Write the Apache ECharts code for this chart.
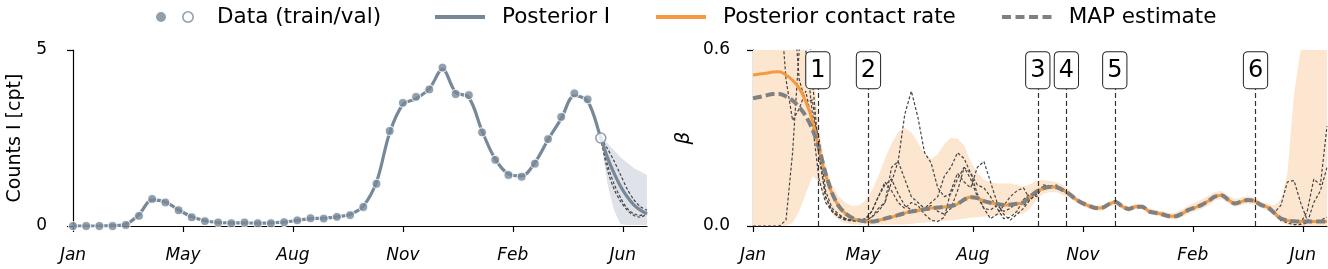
<!DOCTYPE html>
<html><head><meta charset="utf-8">
<script src="https://cdn.jsdelivr.net/npm/echarts@6.0.0/dist/echarts.min.js"></script>
<style>html,body{margin:0;padding:0;background:#fff}#c{width:1328px;height:269px}</style>
</head><body><div id="c"></div><script>
// ---------- data ----------
const tickLabels = ['Jan', 'May', 'Aug', 'Nov', 'Feb', 'Jun'];
const tickDays = [0, 100, 200, 300, 400, 500];
const countStepDays = 12;      // spacing of the count observations
const betaStepDays = 6;        // spacing of the contact-rate samples

const trainCounts = [0.0, 0.0, 0.0, 0.0, 0.03, 0.29, 0.77, 0.67, 0.45, 0.25, 0.14, 0.1, 0.08, 0.1, 0.08, 0.08, 0.11, 0.16, 0.22, 0.21, 0.26, 0.31, 0.54, 1.2, 2.7, 3.5, 3.67, 3.88, 4.5, 3.75, 3.72, 2.66, 1.88, 1.45, 1.4, 1.77, 2.47, 3.1, 3.77, 3.6];
const valCounts = [2.5];
const posteriorFit = [0.0, 0.0, 0.0, 0.01, 0.05, 0.33, 0.74, 0.68, 0.46, 0.26, 0.15, 0.1, 0.09, 0.09, 0.08, 0.09, 0.11, 0.16, 0.21, 0.22, 0.26, 0.33, 0.57, 1.25, 2.65, 3.45, 3.62, 3.9, 4.45, 3.8, 3.65, 2.7, 1.9, 1.48, 1.42, 1.8, 2.45, 3.05, 3.7, 3.55, 2.5];
const forecastDays = [480, 486, 492, 498, 504, 510, 516, 522];
const forecastPosterior = [2.5, 1.95, 1.5, 1.12, 0.83, 0.6, 0.45, 0.35];
const forecastUpper = [2.55, 2.35, 2.15, 1.95, 1.8, 1.65, 1.55, 1.45];
const forecastLower = [2.45, 1.2, 0.45, 0.05, 0.03, 0.03, 0.03, 0.03];
const forecastMapA = [2.5, 2.2, 1.85, 1.45, 1.05, 0.75, 0.55, 0.45];
const forecastMapB = [2.5, 1.6, 1.05, 0.7, 0.45, 0.3, 0.25, 0.35];
const forecastMapC = [2.5, 1.75, 1.2, 0.8, 0.5, 0.35, 0.3, 0.4];

const betaPosterior = [0.515,0.518,0.521,0.525,0.526,0.515,0.497,0.47,0.425,0.36,0.26,0.175,
 0.11,0.068,0.043,0.028,0.02,0.016,0.015,0.019,0.025,0.03,0.037,0.044,
 0.049,0.053,0.057,0.061,0.063,0.065,0.067,0.075,0.09,0.099,0.095,0.085,
 0.079,0.075,0.072,0.072,0.076,0.08,0.1,0.118,0.128,0.133,0.133,0.122,
 0.108,0.09,0.077,0.068,0.061,0.062,0.075,0.082,0.066,0.058,0.066,0.066,
 0.05,0.045,0.04,0.034,0.033,0.042,0.055,0.063,0.072,0.085,0.1,0.105,
 0.09,0.077,0.083,0.089,0.085,0.072,0.064,0.045,0.026,0.019,0.016,0.015,
 0.015,0.015,0.015,0.015];
const betaMap = [0.435,0.44,0.445,0.45,0.45,0.442,0.428,0.405,0.375,0.33,0.265,0.18,
 0.112,0.068,0.043,0.028,0.02,0.016,0.015,0.019,0.025,0.031,0.037,0.044,
 0.049,0.053,0.057,0.06,0.063,0.065,0.068,0.075,0.09,0.098,0.095,0.085,
 0.079,0.075,0.072,0.073,0.076,0.081,0.1,0.118,0.128,0.133,0.132,0.122,
 0.108,0.09,0.077,0.068,0.061,0.063,0.075,0.082,0.066,0.058,0.066,0.066,
 0.05,0.045,0.04,0.034,0.033,0.042,0.055,0.063,0.072,0.085,0.1,0.105,
 0.09,0.077,0.083,0.089,0.085,0.072,0.064,0.045,0.026,0.019,0.016,0.015,
 0.015,0.015,0.015,0.015];
const betaUpper = [0.6,0.6,0.6,0.6,0.6,0.6,0.6,0.6,0.6,0.58,0.33,0.2,
 0.14,0.1,0.08,0.068,0.07,0.085,0.12,0.17,0.23,0.28,0.32,0.334,
 0.32,0.285,0.245,0.228,0.245,0.28,0.3,0.298,0.275,0.22,0.18,0.158,
 0.148,0.145,0.145,0.145,0.14,0.135,0.142,0.155,0.157,0.153,0.15,0.14,
 0.12,0.1,0.086,0.077,0.07,0.071,0.084,0.091,0.075,0.067,0.075,0.075,
 0.06,0.055,0.05,0.045,0.045,0.056,0.07,0.08,0.09,0.102,0.116,0.12,
 0.105,0.092,0.097,0.102,0.097,0.083,0.076,0.07,0.09,0.18,0.45,0.6,
 0.6,0.6,0.6,0.6];
const betaLower = [0,0,0,0,0,0,0.01,0.05,0.11,0.17,0.15,0.08,
 0.04,0.02,0.01,0.005,0.005,0.005,0.005,0.005,0.005,0.005,0.005,0.005,
 0.007,0.01,0.012,0.014,0.016,0.018,0.02,0.022,0.025,0.028,0.03,0.032,
 0.034,0.036,0.037,0.038,0.04,0.042,0.06,0.09,0.11,0.115,0.115,0.105,
 0.095,0.08,0.068,0.059,0.052,0.053,0.066,0.073,0.057,0.049,0.057,0.057,
 0.041,0.036,0.031,0.025,0.023,0.03,0.042,0.05,0.058,0.07,0.086,0.092,
 0.078,0.065,0.071,0.077,0.073,0.061,0.053,0.035,0.012,0.004,0,0,
 0,0,0,0];
const betaRun1 = [0.9,0.9,0.9,0.9,0.8,0.5,0.36,0.4,0.46,0.35,0.16,0.08,
 0.05,0.035,0.025,0.02,0.018,0.02,0.03,0.05,0.08,0.15,0.22,0.38,
 0.46,0.37,0.25,0.215,0.13,0.1,0.11,0.16,0.2,0.16,0.1,0.06,
 0.055,0.07,0.05,0.06,0.08,0.07,0.09,0.12,0.135,0.13,0.14,0.125,
 0.11,0.092,0.078,0.07,0.06,0.064,0.074,0.083,0.067,0.058,0.067,0.065,
 0.051,0.045,0.041,0.035,0.034,0.043,0.056,0.062,0.073,0.086,0.1,0.104,
 0.09,0.078,0.084,0.088,0.085,0.073,0.063,0.045,0.07,0.15,0.155,0.08,
 0.02,0.015,0.02,0.03];
const betaRun2 = [0,0,0,0,0,0.02,0.25,0.6,0.85,0.5,0.24,0.1,
 0.05,0.03,0.022,0.018,0.017,0.02,0.05,0.1,0.14,0.16,0.11,0.07,
 0.055,0.05,0.06,0.08,0.1,0.17,0.2,0.25,0.23,0.18,0.11,0.06,
 0.025,0.04,0.07,0.1,0.12,0.13,0.09,0.11,0.13,0.128,0.135,0.12,
 0.105,0.088,0.076,0.066,0.062,0.06,0.076,0.08,0.065,0.06,0.065,0.067,
 0.049,0.046,0.039,0.033,0.032,0.04,0.054,0.064,0.071,0.084,0.099,0.106,
 0.091,0.076,0.082,0.09,0.084,0.071,0.065,0.04,0.02,0.015,0.015,0.01,
 0.05,0.16,0.14,0.34];
const betaRun3 = [0.9,0.9,0.9,0.9,0.9,0.9,0.8,0.5,0.42,0.43,0.25,0.1,
 0.05,0.03,0.02,0.017,0.02,0.025,0.05,0.1,0.15,0.12,0.08,0.06,
 0.08,0.07,0.04,0.02,0.015,0.03,0.12,0.18,0.15,0.13,0.2,0.22,
 0.15,0.08,0.04,0.02,0.04,0.06,0.09,0.11,0.13,0.14,0.13,0.12,
 0.108,0.09,0.079,0.067,0.063,0.063,0.073,0.084,0.067,0.057,0.068,0.065,
 0.05,0.044,0.041,0.035,0.033,0.041,0.056,0.062,0.072,0.086,0.101,0.104,
 0.09,0.077,0.083,0.089,0.085,0.072,0.064,0.045,0.02,0.01,0.005,0.005,
 0.01,0.08,0.12,0.2];
const betaRun4 = [0.9,0.9,0.9,0.9,0.9,0.9,0.9,0.9,0.6,0.38,0.3,0.12,
 0.06,0.04,0.025,0.02,0.016,0.015,0.03,0.06,0.08,0.2,0.22,0.16,
 0.1,0.08,0.06,0.07,0.05,0.04,0.06,0.12,0.2,0.18,0.14,0.13,
 0.1,0.06,0.025,0.03,0.05,0.09,0.11,0.1,0.14,0.135,0.13,0.125,
 0.107,0.09,0.077,0.068,0.061,0.062,0.075,0.082,0.066,0.058,0.066,0.066,
 0.05,0.045,0.04,0.034,0.033,0.042,0.055,0.063,0.072,0.085,0.1,0.105,
 0.09,0.077,0.083,0.089,0.085,0.072,0.064,0.045,0.026,0.019,0.016,0.015,
 0.015,0.015,0.015,0.015];
const eventDays = [59, 105, 259, 285, 329, 457];
const eventLabels = ['1', '2', '3', '4', '5', '6'];

// ---------- styling ----------
const FONT = "'DejaVu Sans', sans-serif";
const SLATE = '#778899';
const ORANGE = '#f5993f';
const MAPGRAY = '#808080';
const RUNGRAY = '#444444';

const countDays = trainCounts.map((_, i) => i * countStepDays);
const valDays = valCounts.map((_, i) => (trainCounts.length + i) * countStepDays);
const fitDays = posteriorFit.map((_, i) => i * countStepDays);
const betaDays = betaPosterior.map((_, i) => i * betaStepDays);
const pairs = (xs, ys) => xs.map((x, i) => [x, ys[i]]);

function bandSeries(idx, xs, lower, upper, color) {
  return {
    type: 'custom', xAxisIndex: idx, yAxisIndex: idx, z: 1, silent: true,
    data: xs.map((x, i) => [x, upper[i], lower[i]]),
    encode: { x: 0, y: [1, 2] },
    renderItem: (params, api) => {
      if (params.dataIndex !== 0) return null;
      const pts = [];
      for (let i = 0; i < xs.length; i++) pts.push(api.coord([xs[i], upper[i]]));
      for (let i = xs.length - 1; i >= 0; i--) pts.push(api.coord([xs[i], lower[i]]));
      return { type: 'polygon', shape: { points: pts }, style: { fill: color } };
    }
  };
}
function xAxisCfg(gi) {
  return {
    type: 'value', gridIndex: gi, min: 0, max: 522, interval: 100, offset: 7,
    axisLine: { show: true, lineStyle: { color: '#000', width: 1.2 } },
    axisTick: { show: true, length: 6, lineStyle: { color: '#000', width: 1.2 }, customValues: tickDays },
    splitLine: { show: false },
    axisLabel: { customValues: tickDays, fontFamily: FONT, fontSize: 17, fontStyle: 'italic', color: '#000', margin: 14,
      formatter: v => { const k = tickDays.indexOf(Math.round(v)); return k >= 0 ? tickLabels[k] : ''; } }
  };
}
function yAxisCfg(gi, max, margin, name, nameGap, nameStyle, fmt) {
  return {
    type: 'value', gridIndex: gi, min: 0, max: max, interval: max, offset: 7,
    axisLine: { show: true, lineStyle: { color: '#000', width: 1.2 } },
    axisTick: { show: true, length: 6, lineStyle: { color: '#000', width: 1.2 } },
    splitLine: { show: false },
    axisLabel: { fontFamily: FONT, fontSize: 17, color: '#000', margin: margin, formatter: fmt },
    name: name, nameLocation: 'middle', nameGap: nameGap,
    nameTextStyle: Object.assign({ fontFamily: FONT, color: '#000' }, nameStyle)
  };
}
const legendText = { fontFamily: FONT, fontSize: 21.5, color: '#000' };
const dataIcon = 'path://M0,6 a5,5 0 1,0 10,0 a5,5 0 1,0 -10,0 Z M26,6 a6,6 0 1,0 12,0 a6,6 0 1,0 -12,0 Z M27.6,6 a4.4,4.4 0 1,1 8.8,0 a4.4,4.4 0 1,1 -8.8,0 Z';
const solidIcon = 'path://M0,0 H50 V4 H0 Z';
const dashIcon = 'path://M0,0 H9 V4 H0 Z M13.5,0 H22.5 V4 H13.5 Z M27,0 H36 V4 H27 Z M40.5,0 H49.5 V4 H40.5 Z';

const option = {
  animation: false,
  backgroundColor: '#fff',
  legend: [
    { left: 151, top: 1, itemWidth: 38, itemHeight: 12, selectedMode: false,
      data: [{ name: 'Data (train/val)', icon: dataIcon, itemStyle: { color: SLATE, borderWidth: 0 } }],
      textStyle: Object.assign({ padding: [0, 0, 0, 18] }, legendText) },
    { left: 430, top: 1, itemWidth: 50, itemHeight: 4, selectedMode: false,
      data: [{ name: 'Posterior I', icon: solidIcon, itemStyle: { color: SLATE, borderWidth: 0 } }],
      textStyle: Object.assign({ padding: [0, 0, 0, 12] }, legendText) },
    { left: 651, top: 1, itemWidth: 50, itemHeight: 4, selectedMode: false,
      data: [{ name: 'Posterior contact rate', icon: solidIcon, itemStyle: { color: ORANGE, borderWidth: 0 } }],
      textStyle: Object.assign({ padding: [0, 0, 0, 12] }, legendText) },
    { left: 997, top: 1, itemWidth: 50, itemHeight: 4, selectedMode: false,
      data: [{ name: 'MAP estimate', icon: dashIcon, itemStyle: { color: MAPGRAY, borderWidth: 0 } }],
      textStyle: Object.assign({ padding: [0, 0, 0, 12] }, legendText) }
  ],
  grid: [
    { left: 73, top: 50, width: 574, height: 176 },
    { left: 753, top: 50, width: 574, height: 176 }
  ],
  xAxis: [xAxisCfg(0), xAxisCfg(1)],
  yAxis: [
    yAxisCfg(0, 5, 19, 'Counts I [cpt]', 41, { fontSize: 19 }, v => String(v)),
    yAxisCfg(1, 0.6, 16, 'β', 52, { fontSize: 20, fontStyle: 'italic' }, v => v.toFixed(1))
  ],
  series: [
    // ---- left panel ----
    bandSeries(0, forecastDays, forecastLower, forecastUpper, '#dfe3e9'),
    ...[forecastMapA, forecastMapB, forecastMapC].map((r, k) => ({
      type: 'line', name: 'map-run-I-' + k, xAxisIndex: 0, yAxisIndex: 0, z: 2, symbol: 'none',
      data: pairs(forecastDays, r), smooth: 0.3,
      lineStyle: { color: RUNGRAY, width: 1.2, type: [3, 2] }
    })),
    { type: 'line', name: 'Posterior I', xAxisIndex: 0, yAxisIndex: 0, z: 3, symbol: 'none', smooth: 0.35,
      data: pairs(fitDays, posteriorFit).concat(pairs(forecastDays, forecastPosterior).slice(1)),
      lineStyle: { color: SLATE, width: 3.2 }, itemStyle: { color: SLATE } },
    { type: 'scatter', name: 'Data (train/val)', xAxisIndex: 0, yAxisIndex: 0, z: 4, symbolSize: 9,
      itemStyle: { color: SLATE, borderColor: '#fff', borderWidth: 1.2 },
      data: pairs(countDays, trainCounts).concat(pairs(valDays, valCounts).map(p => ({
        value: p, symbolSize: 10, itemStyle: { color: '#fff', borderColor: SLATE, borderWidth: 1.6 } }))) },
    // ---- right panel ----
    bandSeries(1, betaDays, betaLower, betaUpper, '#fde6d0'),
    ...[betaRun1, betaRun2, betaRun3, betaRun4].map((r, k) => ({
      type: 'line', name: 'map-run-beta-' + k, xAxisIndex: 1, yAxisIndex: 1, z: 2, symbol: 'none',
      data: pairs(betaDays, r), clip: true,
      lineStyle: { color: RUNGRAY, width: 1.2, type: [3, 2] }
    })),
    { type: 'line', name: 'Posterior contact rate', xAxisIndex: 1, yAxisIndex: 1, z: 3, symbol: 'none', smooth: 0.3,
      data: pairs(betaDays, betaPosterior), lineStyle: { color: ORANGE, width: 3 }, itemStyle: { color: ORANGE } },
    { type: 'line', name: 'MAP estimate', xAxisIndex: 1, yAxisIndex: 1, z: 4, symbol: 'none', smooth: 0.3,
      data: pairs(betaDays, betaMap), lineStyle: { color: MAPGRAY, width: 4, type: [9, 4] }, itemStyle: { color: MAPGRAY },
      markLine: {
        silent: true, symbol: ['none', 'none'], animation: false,
        lineStyle: { type: [5, 3], color: '#333', width: 1.2 },
        label: { show: true, position: 'end', distance: 0, formatter: '{b}', fontFamily: FONT, fontSize: 24, color: '#000',
          backgroundColor: '#fff', borderColor: '#222', borderWidth: 1, borderRadius: 4, padding: [7, 4, 5, 4] },
        data: eventDays.map((d, i) => [{ name: eventLabels[i], coord: [d, 0] }, { coord: [d, 0.47] }])
      } }
  ]
};
const chart = echarts.init(document.getElementById('c'), null, { renderer: 'canvas' });
chart.setOption(option);
</script></body></html>
